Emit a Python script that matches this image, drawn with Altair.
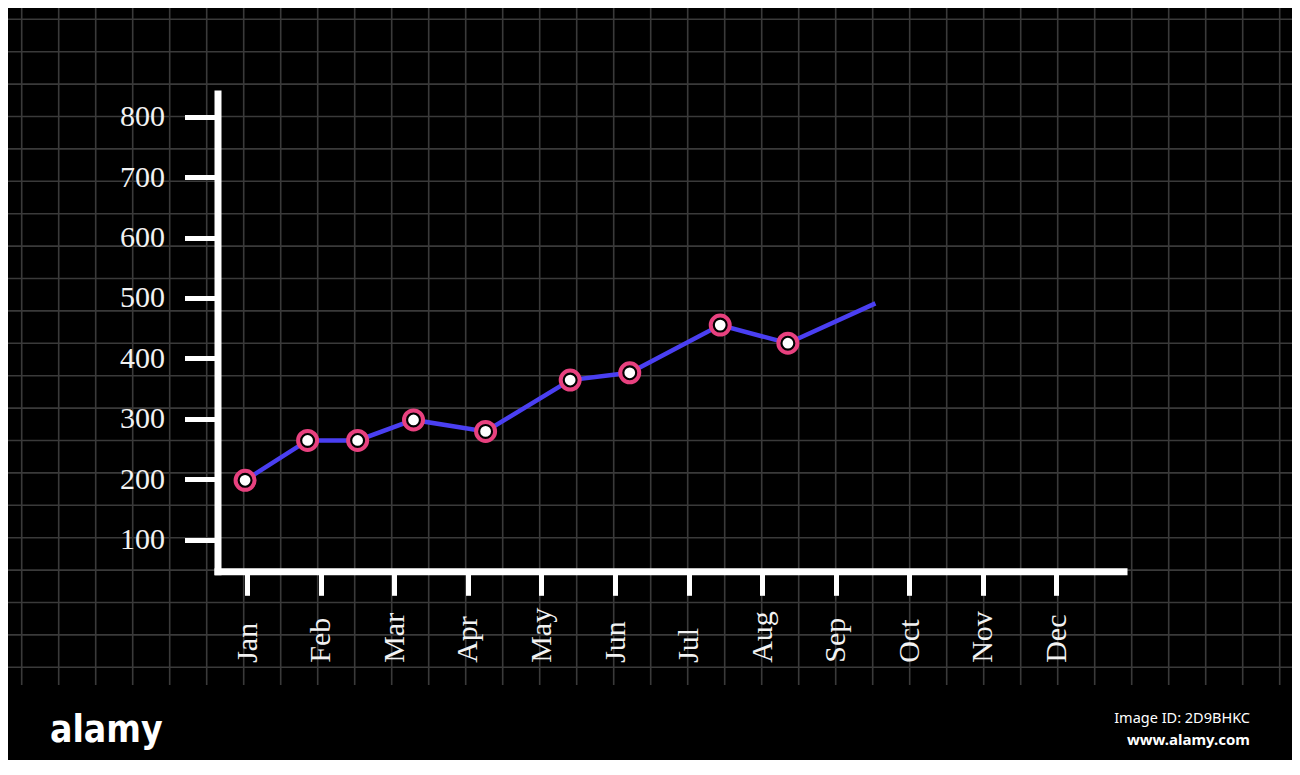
import altair as alt
import pandas as pd

# ---------------- data ----------------
months = ["Jan", "Feb", "Mar", "Apr", "May", "Jun",
          "Jul", "Aug", "Sep", "Oct", "Nov", "Dec"]
month_pos = [-0.03, 0.82, 1.50, 2.26, 3.24, 4.39, 5.20, 6.43, 7.35, 8.54]
values = [198, 264, 264, 298, 279, 364, 376, 455, 425, 491]
marked = [True, True, True, True, True, True, True, True, True, False]
y_ticks = [100, 200, 300, 400, 500, 600, 700, 800]
footer_logo = ["alamy"]
footer_id = ["Image ID: 2D9BHKC"]
footer_url = ["www.alamy.com"]

# ---------------- layout (pixels, view coordinates) ----------------
W, H = 1284, 752
GRID_COLOR = "#3a3a3a"
grid_x = [13.7 + 37.0 * k for k in range(35)]
grid_y = [11.3 + 32.4 * k for k in range(21)]

series = pd.DataFrame({"m": month_pos, "v": values, "mk": marked})
points = series[series["mk"]]

px = alt.Scale(domain=[0, W], range=[0, W], nice=False, zero=False)
py = alt.Scale(domain=[0, H], range=[0, H], nice=False, zero=False)

grid_v = alt.Chart(pd.DataFrame({"gx": grid_x})).mark_rule(
    color=GRID_COLOR, strokeWidth=1.6
).encode(
    x=alt.X("gx:Q", scale=px, axis=None),
    y=alt.value(0),
    y2=alt.value(677),
)

grid_h = alt.Chart(pd.DataFrame({"gy": grid_y})).mark_rule(
    color=GRID_COLOR, strokeWidth=1.6
).encode(
    y=alt.Y("gy:Q", scale=py, axis=None),
    x=alt.value(0),
    x2=alt.value(W),
)

logo = alt.Chart(pd.DataFrame({"t": footer_logo})).mark_text(
    x=42, y=734, align="left", baseline="alphabetic",
    font="Liberation Sans Narrow, DejaVu Sans Condensed, Noto Sans, sans-serif",
    fontWeight="bold", fontSize=37, color="white"
).encode(text="t:N")

img_id = alt.Chart(pd.DataFrame({"t": footer_id})).mark_text(
    x=1242, y=715, align="right", baseline="alphabetic",
    font="Noto Sans", fontSize=14.5, color="white"
).encode(text="t:N")

url = alt.Chart(pd.DataFrame({"t": footer_url})).mark_text(
    x=1242, y=737, align="right", baseline="alphabetic",
    font="Noto Sans", fontWeight="bold", fontSize=15, color="white"
).encode(text="t:N")

# ---------------- main chart ----------------
xscale = alt.Scale(domain=[-0.405, 11.913], range=[209.5, 1115.5], nice=False, zero=False)
yscale = alt.Scale(domain=[47.4, 838.4], range=[563.3, 85.5], nice=False, zero=False)

label_expr = "[" + ",".join("'%s'" % m for m in months) + "][datum.value]"

x_axis = alt.Axis(
    orient="bottom", offset=563.3 - H, values=list(range(12)), labelExpr=label_expr,
    title=None, grid=False, zindex=1,
    domainColor="white", domainWidth=7, domainCap="square",
    tickColor="white", tickWidth=5, tickSize=24,
    labelAngle=270, labelAlign="left", labelBaseline="middle", labelPadding=67,
    labelFont="Liberation Serif", labelFontSize=30, labelColor="#f2f2f2",
    labelOverlap=False, labelFlush=False, labelBound=False,
)
y_axis = alt.Axis(
    orient="left", offset=-209.5, values=y_ticks, title=None, grid=False, zindex=1,
    domainColor="white", domainWidth=7, domainCap="square",
    tickColor="white", tickWidth=5, tickSize=33,
    labelPadding=20, labelFont="Liberation Serif", labelFontSize=30,
    labelColor="#f2f2f2", labelOverlap=False, labelFlush=False, labelBound=False,
)

line = alt.Chart(series).mark_line(color="#4a3ff2", strokeWidth=4.5).encode(
    x=alt.X("m:Q", scale=xscale, axis=x_axis),
    y=alt.Y("v:Q", scale=yscale, axis=y_axis),
)
rings = alt.Chart(points).mark_point(
    shape="circle", filled=True, fill="black", fillOpacity=1,
    stroke="#e8417f", strokeWidth=4, size=361, opacity=1
).encode(
    x=alt.X("m:Q", scale=xscale),
    y=alt.Y("v:Q", scale=yscale),
)
dots = alt.Chart(points).mark_circle(color="white", size=115, opacity=1).encode(
    x=alt.X("m:Q", scale=xscale),
    y=alt.Y("v:Q", scale=yscale),
)

main = alt.layer(line, rings, dots)

chart = alt.layer(grid_v, grid_h, logo, img_id, url, main).resolve_scale(
    x="independent", y="independent"
).properties(
    width=W, height=H,
    autosize=alt.AutoSizeParams(type="none"),
    padding=0,
    background="#000000",
).configure_view(stroke=None)

chart.save("out.html", embed_options={"renderer": "svg", "actions": False})
